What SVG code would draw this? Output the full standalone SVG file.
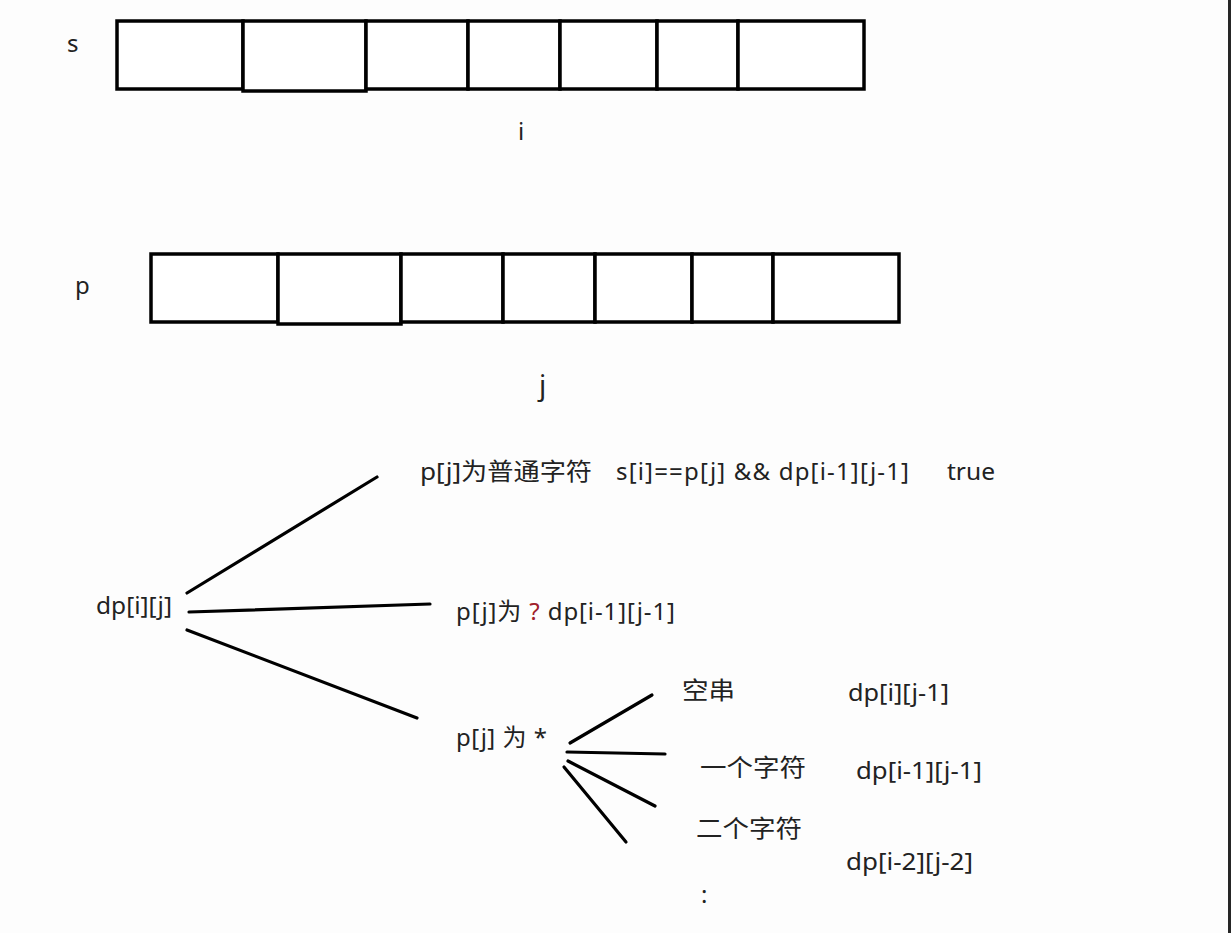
<svg xmlns="http://www.w3.org/2000/svg" width="1231" height="933" viewBox="0 0 1231 933">
<style>
.cell{fill:#fff;stroke:#000;stroke-width:3.5}
.ln{stroke:#000;stroke-width:3.2;stroke-linecap:round;fill:none}
.t{font-family:"Noto Sans","Noto Sans CJK SC",sans-serif;font-size:24px;fill:#222}
.q{fill:#a0202a}
</style>
<rect x="0" y="0" width="1231" height="933" fill="#fdfdfd"/>
<rect x="1228" y="0" width="3" height="933" fill="#262626"/>
<g id="s-array">
<text class="t" x="67" y="52">s</text>
<rect class="cell" x="117" y="21" width="126" height="68"/>
<rect class="cell" x="243" y="21" width="123" height="70"/>
<rect class="cell" x="366" y="21" width="102" height="68"/>
<rect class="cell" x="468" y="21" width="92" height="68"/>
<rect class="cell" x="560" y="21" width="97" height="68"/>
<rect class="cell" x="657" y="21" width="81" height="68"/>
<rect class="cell" x="738" y="21" width="126" height="68"/>
</g>
<g id="label-i"><text class="t" x="518" y="140">i</text></g>
<g id="p-array">
<text class="t" x="75" y="294">p</text>
<rect class="cell" x="151" y="254" width="127" height="68"/>
<rect class="cell" x="278" y="254" width="123" height="70"/>
<rect class="cell" x="401" y="254" width="102" height="68"/>
<rect class="cell" x="503" y="254" width="92" height="68"/>
<rect class="cell" x="595" y="254" width="97" height="68"/>
<rect class="cell" x="692" y="254" width="81" height="68"/>
<rect class="cell" x="773" y="254" width="126" height="68"/>
</g>
<g id="label-j"><text class="t" x="539" y="395" style="font-size:28px">j</text></g>
<g id="connectors">
<line class="ln" x1="187" y1="593" x2="377" y2="477"/>
<line class="ln" x1="189" y1="612" x2="430" y2="604"/>
<line class="ln" x1="187" y1="630" x2="417" y2="718"/>
<line class="ln" x1="570" y1="743" x2="652" y2="695"/>
<line class="ln" x1="567" y1="752" x2="665" y2="754"/>
<line class="ln" x1="568" y1="761" x2="655" y2="806"/>
<line class="ln" x1="564" y1="767" x2="626" y2="842"/>
</g>
<g id="root"><text class="t" x="96" y="614" textLength="76" lengthAdjust="spacingAndGlyphs">dp[i][j]</text></g>
<g id="case-normal">
<text class="t" x="420" y="480" textLength="172" lengthAdjust="spacingAndGlyphs">p[j]为普通字符</text>
<text class="t" x="616" y="480" textLength="293" lengthAdjust="spacing">s[i]==p[j] &amp;&amp; dp[i-1][j-1]</text>
<text class="t" x="947" y="480" textLength="48" lengthAdjust="spacingAndGlyphs">true</text>
</g>
<g id="case-question">
<text class="t" x="456" y="620" textLength="219" lengthAdjust="spacing">p[j]为 <tspan class="q">?</tspan> dp[i-1][j-1]</text>
</g>
<g id="case-star"><text class="t" x="456" y="746" textLength="91" lengthAdjust="spacing">p[j] 为 *</text></g>
<g id="star-empty">
<text class="t" x="682" y="699" textLength="53" lengthAdjust="spacingAndGlyphs">空串</text>
<text class="t" x="848" y="701" textLength="101" lengthAdjust="spacingAndGlyphs">dp[i][j-1]</text>
</g>
<g id="star-one">
<text class="t" x="700" y="776" textLength="106" lengthAdjust="spacingAndGlyphs">一个字符</text>
<text class="t" x="856" y="779" textLength="126" lengthAdjust="spacingAndGlyphs">dp[i-1][j-1]</text>
</g>
<g id="star-two">
<text class="t" x="696" y="837" textLength="106" lengthAdjust="spacingAndGlyphs">二个字符</text>
<text class="t" x="846" y="870" textLength="127" lengthAdjust="spacingAndGlyphs">dp[i-2][j-2]</text>
</g>
<g id="more"><text class="t" x="701" y="903">:</text></g>
</svg>
